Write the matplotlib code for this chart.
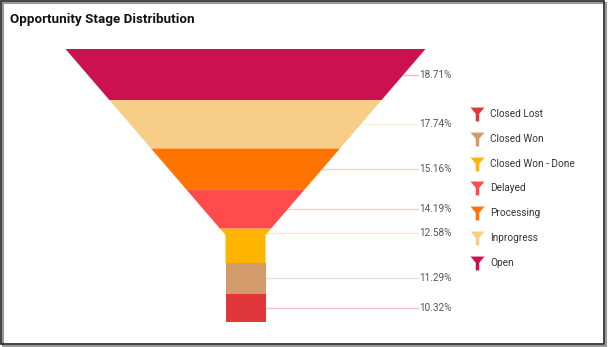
import numpy as np
import matplotlib.pyplot as plt
from matplotlib.path import Path
from matplotlib.patches import Polygon, Rectangle

plt.rcParams['font.family'] = ['Roboto', 'DejaVu Sans']

# data, top of funnel first
stages = ['Open', 'Inprogress', 'Processing', 'Delayed',
          'Closed Won - Done', 'Closed Won', 'Closed Lost']
shares = [18.71, 17.74, 15.16, 14.19, 12.58, 11.29, 10.32]
colors = ['#CC1150', '#F8CD88', '#FF7400', '#FF4B4B',
          '#FFB500', '#D39B6B', '#E0373A']
label_nudge = [0, 0, 0, 0, -13, 0, 0]

# layout in pixels
W, H = 609, 347
top_y, bottom_y = 49, 322
cx = 245.5
top_w, neck_w = 360, 40
neck_y = 235
label_x = 418

fig = plt.figure(figsize=(W / 100, H / 100), dpi=100)
ax = fig.add_axes([0, 0, 1, 1])
ax.set_xlim(0, W)
ax.set_ylim(H, 0)
ax.axis('off')

def half_width(y):
    if y >= neck_y:
        return neck_w / 2
    t = (y - top_y) / (neck_y - top_y)
    return (top_w + (neck_w - top_w) * t) / 2

total_h = bottom_y - top_y
edges = top_y + np.concatenate([[0], np.cumsum(shares)]) / sum(shares) * total_h

for i, (p, c) in enumerate(zip(shares, colors)):
    y0, y1 = edges[i], edges[i + 1]
    ys = [y0] + ([neck_y] if y0 < neck_y < y1 else []) + [y1]
    right = [(cx + half_width(y), y) for y in ys]
    left = [(cx - half_width(y), y) for y in reversed(ys)]
    ax.add_patch(Polygon(right + left, closed=True, facecolor=c, edgecolor='none'))

    ly = (y0 + y1) / 2 + label_nudge[i]
    ax.plot([cx + half_width(ly), label_x], [ly, ly], color=c, alpha=0.3, lw=1)
    ax.text(label_x + 1, ly, f'{p:.2f}%', fontsize=7.2, color='#555555',
            va='center', ha='left')

# legend with funnel-shaped markers
funnel_marker = Path([(-1, 1), (1, 1), (0.25, 0.1), (0.25, -1), (-0.25, -1),
                      (-0.25, 0.1), (-1, 1)],
                     [Path.MOVETO] + [Path.LINETO] * 5 + [Path.CLOSEPOLY])
for k, i in enumerate(reversed(range(len(stages)))):
    y = 114 + k * 24.8
    ax.plot(477, y, marker=funnel_marker, markersize=10, color=colors[i],
            markeredgewidth=0)
    ax.text(490, y, stages[i], fontsize=7.2, color='#333333', va='center', ha='left')

ax.text(10, 19, 'Opportunity Stage Distribution', fontsize=9.6, fontweight='bold',
        color='#111111', va='center', ha='left')

# frame with shadow
ax.add_patch(Rectangle((2.5, 2.5), 603, 343, fill=False, edgecolor='#999999', lw=1.5))
ax.add_patch(Rectangle((1, 1), 603, 343, fill=False, edgecolor='#222222', lw=1.2))

fig.savefig('out.png', dpi=100)
